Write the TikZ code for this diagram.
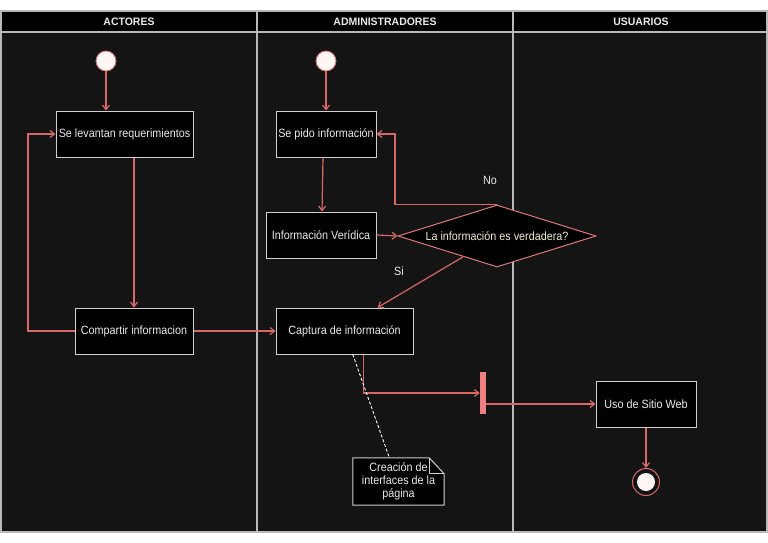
\documentclass[tikz,border=0pt]{standalone}
\usepackage{fontspec}
\setmainfont{Liberation Sans}
\newfontfamily\boxfont[FakeStretch=0.9]{Liberation Sans}
\newfontfamily\hdrfont[FakeStretch=0.97]{Liberation Sans}
\usetikzlibrary{shapes.geometric,arrows.meta,calc}
\definecolor{bodyc}{HTML}{141414}
\definecolor{lanec}{HTML}{B8B8B8}
\definecolor{boxc}{HTML}{D0D0D0}
\definecolor{conc}{HTML}{D86868}
\definecolor{diac}{HTML}{E07878}
\definecolor{barc}{HTML}{F08080}
\definecolor{txtc}{HTML}{EAEAEA}
\definecolor{diatxt}{HTML}{F0ECD0}
\definecolor{startc}{HTML}{FFF6F6}
\tikzset{
  actbox/.style={draw=boxc, line width=1pt, fill=black, text=txtc, font=\boxfont\fontsize{12}{13.3}\selectfont, inner sep=0pt, minimum height=46pt},
  hdr/.style={text=txtc, font=\hdrfont\bfseries\fontsize{10.8}{12}\selectfont, inner sep=0pt},
  lbl/.style={text=txtc, font=\boxfont\fontsize{12}{13.3}\selectfont, inner sep=0pt},
  conn/.style={draw=conc, line width=1.2pt, -{Straight Barb[length=4.5pt,width=7pt]}},
  startdot/.style={circle, draw=conc, line width=0.8pt, fill=startc, minimum size=20pt, inner sep=0pt},
}
\begin{document}
\begin{tikzpicture}[x=1pt,y=-1pt]
\useasboundingbox (0,0) rectangle (768,543);
\fill[white] (0,0) rectangle (768,543);
% swimlanes
\fill[bodyc] (1,32) rectangle (767,532);
\fill[black] (1,11) rectangle (767,32);
\draw[lanec, line width=1.4pt] (1,11) rectangle (767,532);
\draw[lanec, line width=1.4pt] (1,32) -- (767,32);
\draw[lanec, line width=1.4pt] (257,11) -- (257,532);
\draw[lanec, line width=1.4pt] (513,11) -- (513,532);
\node[hdr] (h1) at (129,21.5) {ACTORES};
\node[hdr] (h2) at (385,21.5) {ADMINISTRADORES};
\node[hdr] (h3) at (641,21.5) {USUARIOS};
% nodes
\node[startdot] (s1) at (106,61) {};
\node[startdot] (s2) at (326,61) {};
\node[actbox, minimum width=137pt] (lev) at (124.5,134) {Se levantan requerimientos};
\node[actbox, minimum width=100pt] (pid) at (326,134) {Se pido información};
\node[actbox, minimum width=110pt] (ver) at (321,235) {Información Verídica};
\node[diamond, draw=diac, line width=1pt, fill=black, text=diatxt, font=\boxfont\fontsize{12}{13.3}\selectfont, inner sep=0pt, minimum width=198pt, minimum height=62pt, aspect=3.2] (dec) at (497,236) {La información es verdadera?};
\node[actbox, minimum width=118pt] (comp) at (134,331) {Compartir informacion};
\node[actbox, minimum width=137pt] (cap) at (344.5,331) {Captura de información};
\node[draw=none, fill=barc, minimum width=6pt, minimum height=42pt, inner sep=0pt] (bar) at (483,393) {};
\node[actbox, minimum width=100pt] (uso) at (646,404) {Uso de Sitio Web};
\node[circle, draw=conc, line width=1pt, fill=bodyc, minimum size=27pt, inner sep=0pt] (end) at (646,482) {};
\node[circle, fill=startc, minimum size=18pt, inner sep=0pt] (endin) at (646,482) {};
% note (outline drawn around a text-free node, text on top)
\node[minimum width=91pt, minimum height=47pt, inner sep=0pt] (note) at (398.5,481.5) {};
\fill[black] (note.north west) -- ($(note.north east)+(-15,0)$) -- ($(note.north east)+(0,16)$) -- (note.south east) -- (note.south west) -- cycle;
\draw[boxc, line width=1pt] (note.north west) -- ($(note.north east)+(-15,0)$) -- ($(note.north east)+(0,16)$) -- (note.south east) -- (note.south west) -- cycle;
\draw[boxc, line width=0.8pt] ($(note.north east)+(-15,0)$) -- ($(note.north east)+(-15,16)$) -- ($(note.north east)+(0,16)$);
\node[lbl, align=center] (notetxt) at (note.center) {Creación de\\interfaces de la\\página};
% connectors
\draw[conn] (s1) -- (s1 |- lev.north);
\draw[conn] (s2) -- (pid.north);
\draw[conn] (comp.north |- lev.south) -- (comp.north);
\draw[conn] ($(pid.south)+(-3,0)$) -- ($(ver.north)+(1,0)$);
\draw[conn] (ver.east) -- (dec.west);
\coordinate (nox) at (395,134);
\draw[conn] (dec.north) -| (nox) -- (pid.east);
\coordinate (loopx) at (28,331);
\draw[conn] (comp.west) -- (loopx) |- (lev.west);
\draw[conn] (comp.east) -- (cap.west);
\draw[conn] ($(dec.west)!0.66!(dec.south)$) -- ($(cap.north west)!0.74!(cap.north east)$);
\draw[conn] ($(cap.south west)!0.64!(cap.south east)$) |- (bar.west);
\draw[conn] (bar.east |- uso.west) -- (uso.west);
\draw[conn] (uso.south) -- (end.north);
\draw[white, line width=0.9pt, dash pattern=on 3pt off 2pt] ($(cap.south west)!0.56!(cap.south east)$) -- ($(note.north west)!0.4!(note.north east)$);
% labels
\node[lbl] (no) at (490,180) {No};
\node[lbl] (si) at (399,271) {Si};
\end{tikzpicture}
\end{document}
